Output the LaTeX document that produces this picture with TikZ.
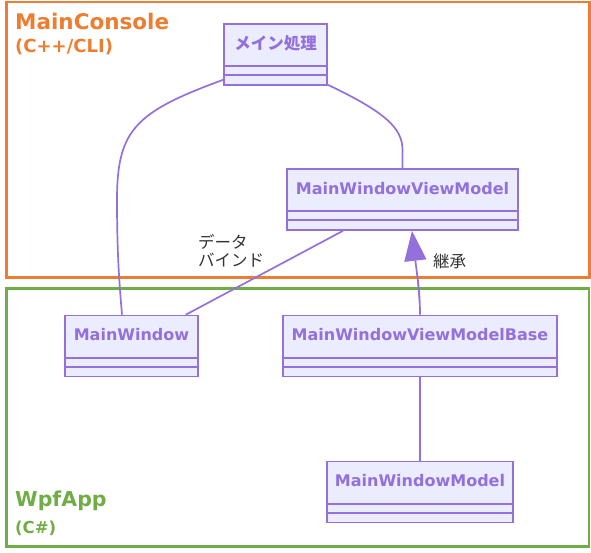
\documentclass[tikz,border=0pt]{standalone}
\usepackage{fontspec}
\setmainfont{DejaVu Sans}
\newfontfamily\cjk{Noto Sans CJK JP}
\usetikzlibrary{arrows.meta,calc}
\definecolor{orng}{HTML}{ED7D31}
\definecolor{grn}{HTML}{70AD47}
\definecolor{purp}{HTML}{9370DB}
\definecolor{clsfill}{HTML}{ECECFF}
\definecolor{lbl}{HTML}{333333}
\tikzset{
  grpbox/.style={line width=2.7pt},
  grptitle/.style={anchor=base west, inner sep=0pt, font=\bfseries},
  clsbox/.style={draw=purp, fill=clsfill, line width=1.6pt, inner sep=0pt},
  clstext/.style={anchor=base, inner sep=0pt, text=purp, font=\fontsize{16}{19}\selectfont\bfseries},
  clsdiv/.style={draw=purp, line width=1.6pt},
  rel/.style={draw=purp, line width=1.7pt},
  rellabel/.style={inner sep=0pt, text=lbl, align=left, font=\cjk\fontsize{16.5}{18}\selectfont},
}
\newcommand\classbox[5]{%
  \node[clsbox, minimum width=#4, minimum height=61] (#1) at (#2,{#3+30.5}) {};
  \node[clstext] (#1-t) at ($(#1.north)+(0,26)$) {#5};
  \draw[clsdiv] ($(#1.north west)+(0,43)$) -- ($(#1.north east)+(0,43)$);
  \draw[clsdiv] ($(#1.north west)+(0,52)$) -- ($(#1.north east)+(0,52)$);
}
\begin{document}
\begin{tikzpicture}[x=1pt,y=-1pt]
\useasboundingbox (0,0) rectangle (591,553);
% groups
\draw[grpbox, draw=orng] (6.5,2) rectangle (589.5,277.3);
\draw[grpbox, draw=grn] (6.5,288.7) rectangle (589,546.3);
\node[grptitle, text=orng, font=\fontsize{21.5}{25}\selectfont\bfseries] (mc) at (15,30) {MainConsole};
\node[grptitle, text=orng, font=\fontsize{18}{21}\selectfont\bfseries] (mcs) at (15,52.5) {(C++/CLI)};
\node[grptitle, text=grn, font=\fontsize{20.5}{24}\selectfont\bfseries] (wa) at (15,506.5) {WpfApp};
\node[grptitle, text=grn, font=\fontsize{16.5}{20}\selectfont\bfseries] (was) at (15,533) {(C\#)};
% classes
\classbox{main}{275.5}{24}{103}{{\cjk\fontsize{16.5}{19}\selectfont\bfseries メイン処理}}
\classbox{mwvm}{402.5}{169}{231}{MainWindowViewModel}
\classbox{mw}{131.5}{315.5}{133}{MainWindow}
\classbox{mwvmb}{420}{315.5}{274}{MainWindowViewModelBase}
\classbox{mwm}{420}{461.5}{186}{MainWindowModel}
% relations
\coordinate (a1) at ($(main.south west)+(0,-6)$);
\coordinate (b1) at ($(mw.north)+(-9.5,0)$);
\draw[rel] (a1) .. controls (135,112) and (117,130) .. (117,200)
  .. controls (117,260) and (120,290) .. (b1);
\coordinate (a2) at ($(main.south east)+(0,-1)$);
\draw[rel] (a2) .. controls (385,112) and (402.5,128) .. (402.5,150) -- (mwvm.north);
\coordinate (a3) at ($(mwvm.south)+(-59.5,0)$);
\coordinate (b3) at ($(mw.north east)+(-13,0)$);
\draw[rel] (a3) -- (b3);
\node[rellabel, anchor=base west] (l3) at (198,266) {データ\\バインド};
\coordinate (b4) at ($(mwvm.south)+(9.5,0)$);
\draw[rel, fill=purp, -{Triangle[length=30pt,width=22pt]}] (mwvmb.north) .. controls (420,290) and (417,275) .. (b4);
\node[rellabel, anchor=base west] (l4) at (433,267) {継承};
\draw[rel] (mwvmb.south) -- (mwm.north);
\end{tikzpicture}
\end{document}
